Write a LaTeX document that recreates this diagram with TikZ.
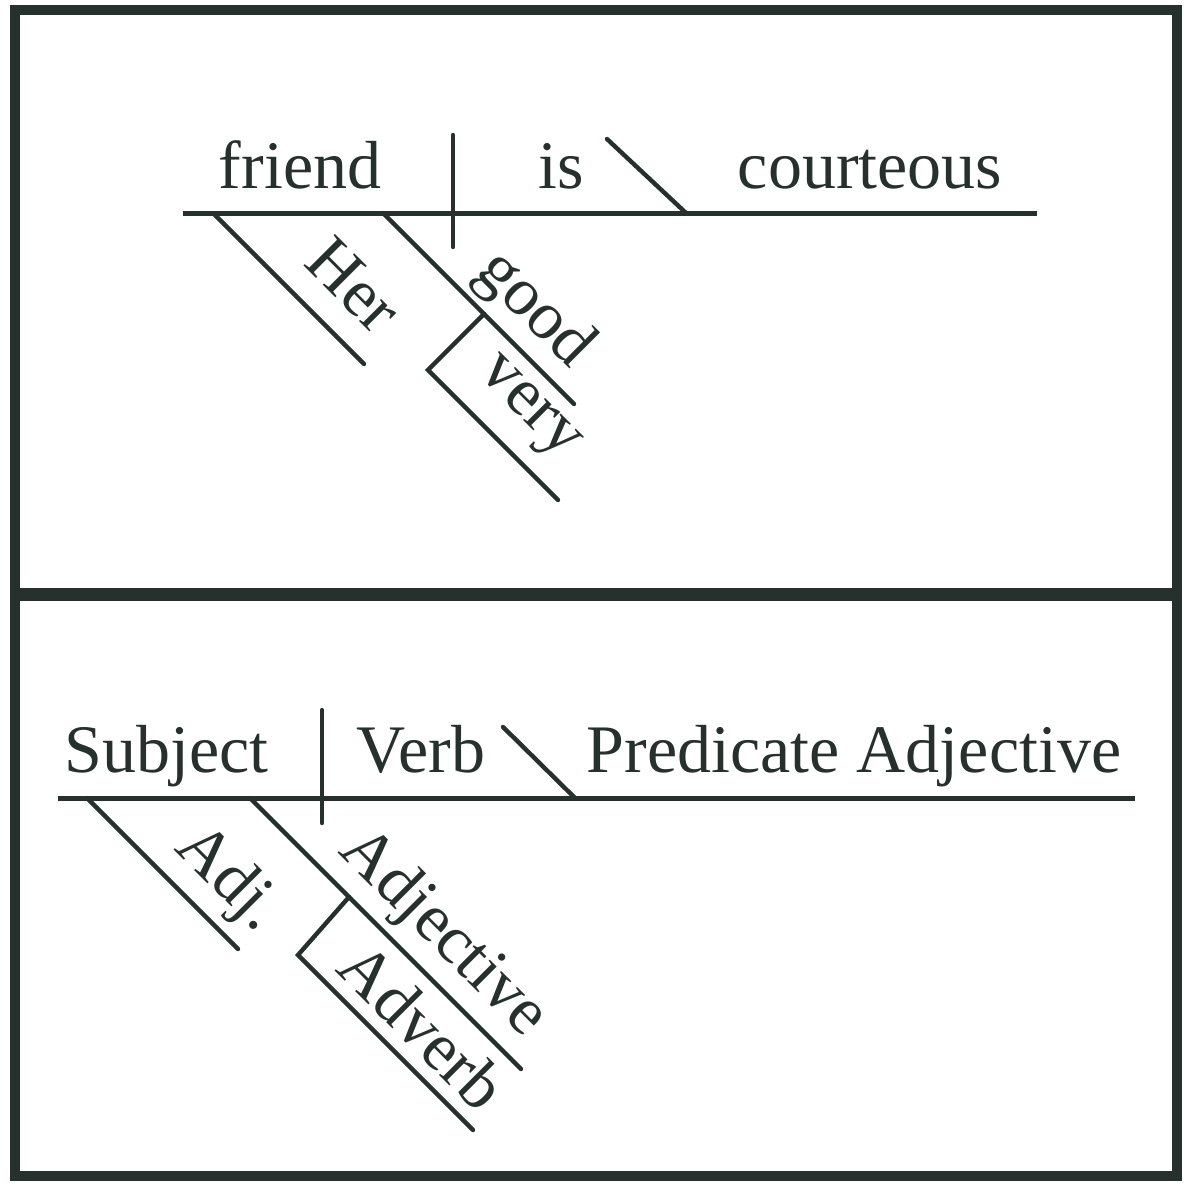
\documentclass[tikz,border=0pt]{standalone}
\usepackage{fontspec}
\setmainfont{Liberation Serif}
\definecolor{ink}{RGB}{38,48,45}
\begin{document}
\begin{tikzpicture}[x=0.5pt,y=-0.5pt,
  word/.style={font=\fontsize{34}{40}\selectfont, text=ink, inner sep=0pt, anchor=base},
  slword/.style={word, rotate=-45},
  diag/.style={draw=ink, line width=2.2pt, line cap=round},
  baseln/.style={draw=ink, line width=2.5pt},
  frameline/.style={draw=ink, line width=5pt},
  midline/.style={draw=ink, line width=6.5pt}]
\useasboundingbox (0,0) rectangle (1196,1200);
% frame
\coordinate (fTL) at (15,10);
\coordinate (fBR) at (1177,1176);
\coordinate (mL) at (15,594);
\coordinate (mR) at (1177,594);
\draw[frameline] (fTL) rectangle (fBR);
\draw[midline] (mL) -- (mR);

% ---------- top diagram ----------
\coordinate (tL) at (183,213);
\coordinate (tR) at (1037,213);
\coordinate (tdT) at (453,135);
\coordinate (tdB) at (453,247);
\coordinate (tsT) at (607,139);
\coordinate (tsB) at (686,213);
\coordinate (herS) at (213,213);
\coordinate (herE) at (364,364);
\coordinate (goodS) at (383,213);
\coordinate (goodE) at (574,404);
\coordinate (veryJ) at (484,314);
\coordinate (veryC) at (428,370);
\coordinate (veryE) at (558,500);
\draw[baseln] (tL) -- (tR);
\draw[diag] (tdT) -- (tdB);
\draw[diag] (tsT) -- (tsB);
\draw[diag] (herS) -- (herE);
\draw[diag] (goodS) -- (goodE);
\draw[diag] (veryJ) -- (veryC) -- (veryE);
\node[word] (friend) at (300,188) {friend};
\node[word] (is) at (561,188) {is};
\node[word] (courteous) at (870,188) {courteous};
\node[slword] (her) at (338.9,300.7) {Her};
\node[slword] (good) at (522.3,321.2) {good};
\node[slword] (very) at (519.9,416.7) {very};

% ---------- bottom diagram ----------
\coordinate (bL) at (58,798);
\coordinate (bR) at (1135,798);
\coordinate (bdT) at (322,710);
\coordinate (bdB) at (322,823);
\coordinate (bsT) at (503,727);
\coordinate (bsB) at (575,798);
\coordinate (adjS) at (87,798);
\coordinate (adjE) at (238,949);
\coordinate (adjvS) at (250,798);
\coordinate (adjvE) at (521,1069);
\coordinate (advJ) at (349,897);
\coordinate (advC) at (298,955);
\coordinate (advE) at (473,1130);
\draw[baseln] (bL) -- (bR);
\draw[diag] (bdT) -- (bdB);
\draw[diag] (bsT) -- (bsB);
\draw[diag] (adjS) -- (adjE);
\draw[diag] (adjvS) -- (adjvE);
\draw[diag] (advJ) -- (advC) -- (advE);
\node[word] (subject) at (166.5,772) {Subject};
\node[word] (verb) at (421,772) {Verb};
\node[word] (predadj) at (854,772) {Predicate Adjective};
\node[slword] (adj) at (215.7,891.3) {Adj.};
\node[slword] (adjective) at (431.4,945.5) {Adjective};
\node[slword] (adverb) at (406.9,1042.7) {Adverb};
\end{tikzpicture}
\end{document}
